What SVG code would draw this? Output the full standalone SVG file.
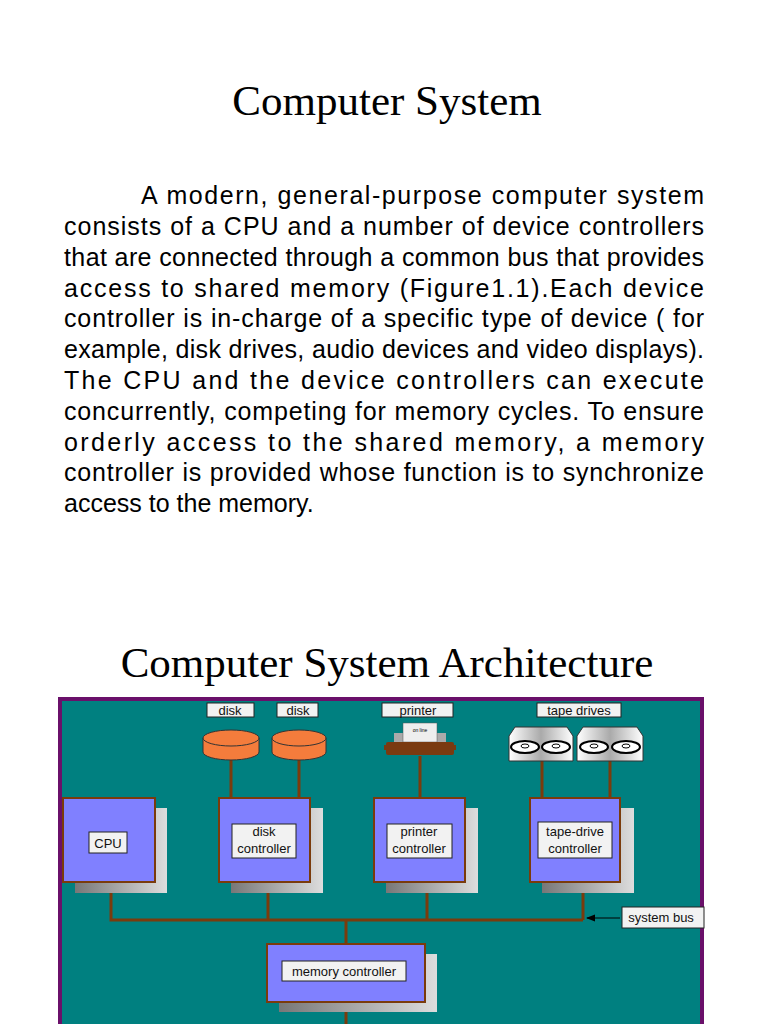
<svg xmlns="http://www.w3.org/2000/svg" width="768" height="1024" viewBox="0 0 768 1024">
<style>
.t{font-family:"Liberation Serif",serif;font-size:43px;fill:#000;text-anchor:middle}
.p{font-family:"Liberation Sans",Arial,sans-serif;font-size:25px;fill:#000}
.box{fill:#8080ff;stroke:#7a3b0c;stroke-width:2}
.sh{fill:url(#g)}
.lb{fill:#f2f2f2;stroke:#222;stroke-width:1}
.lt{font-family:"Liberation Sans",Arial,sans-serif;font-size:13px;fill:#111;text-anchor:middle}
.ln{stroke:#7a3b0c;stroke-width:3;fill:none}
</style>
<defs>
<linearGradient id="g" x1="0" y1="0" x2="1" y2="0"><stop offset="0" stop-color="#777"/><stop offset="1" stop-color="#ddd"/></linearGradient>
<linearGradient id="tg" x1="0" y1="0" x2="1" y2="0"><stop offset="0" stop-color="#fff"/><stop offset="0.5" stop-color="#aaa"/><stop offset="1" stop-color="#fff"/></linearGradient>
<marker id="ah" markerWidth="8" markerHeight="6" refX="7" refY="3" orient="auto"><path d="M0,0 L8,3 L0,6 Z" fill="#000"/></marker>
</defs>
<rect width="768" height="1024" fill="#fff"/>
<text class="t" x="387" y="115">Computer System</text>
<g class="p">
<text x="141" y="204" textLength="563" lengthAdjust="spacing">A modern, general-purpose computer system</text>
<text x="64" y="235" textLength="640" lengthAdjust="spacing">consists of a CPU and a number of device controllers</text>
<text x="64" y="266" textLength="640" lengthAdjust="spacing">that are connected through a common bus that provides</text>
<text x="64" y="297" textLength="640" lengthAdjust="spacing">access to shared memory (Figure1.1).Each device</text>
<text x="64" y="327" textLength="640" lengthAdjust="spacing">controller is in-charge of a specific type of device ( for</text>
<text x="64" y="358" textLength="640" lengthAdjust="spacing">example, disk drives, audio devices and video displays).</text>
<text x="64" y="389" textLength="640" lengthAdjust="spacing">The CPU and the device controllers can execute</text>
<text x="64" y="420" textLength="640" lengthAdjust="spacing">concurrently, competing for memory cycles. To ensure</text>
<text x="64" y="451" textLength="640" lengthAdjust="spacing">orderly access to the shared memory, a memory</text>
<text x="64" y="481" textLength="640" lengthAdjust="spacing">controller is provided whose function is to synchronize</text>
<text x="64" y="512">access to the memory.</text>
</g>
<text class="t" x="387" y="677">Computer System Architecture</text>
<rect x="60" y="699" width="642" height="330" fill="#008080" stroke="#6a106a" stroke-width="4"/>
<g id="connectors">
<path class="ln" d="M111,882 V920 H583 M268,882 V920 M427,882 V920 M583,882 V920 M346,920 V944 M346,1002 V1024"/>
<path class="ln" d="M231,758 V798 M299,758 V798 M420,756 V798 M542,760 V798 M610,760 V798"/>
<line x1="620" y1="918" x2="587" y2="918" stroke="#000" stroke-width="1.2" marker-end="url(#ah)"/>
</g>
<g id="cpu"><rect class="sh" x="75" y="808" width="92" height="85"/><rect class="box" x="63" y="798" width="92" height="84"/><rect class="lb" x="89" y="832" width="38" height="21"/><text class="lt" x="108" y="848">CPU</text></g>
<g id="disk-controller"><rect class="sh" x="231" y="808" width="92" height="85"/><rect class="box" x="219" y="798" width="91" height="84"/><rect class="lb" x="232" y="824" width="64" height="34"/><text class="lt" x="264" y="836">disk</text><text class="lt" x="264" y="853">controller</text></g>
<g id="printer-controller"><rect class="sh" x="386" y="808" width="92" height="85"/><rect class="box" x="374" y="798" width="91" height="84"/><rect class="lb" x="387" y="824" width="65" height="34"/><text class="lt" x="419" y="836">printer</text><text class="lt" x="419" y="853">controller</text></g>
<g id="tape-controller"><rect class="sh" x="542" y="808" width="92" height="85"/><rect class="box" x="530" y="798" width="90" height="84"/><rect class="lb" x="538" y="822" width="74" height="36"/><text class="lt" x="575" y="836">tape-drive</text><text class="lt" x="575" y="853">controller</text></g>
<g id="memory-controller"><rect class="sh" x="279" y="954" width="158" height="58"/><rect class="box" x="267" y="944" width="158" height="58"/><rect class="lb" x="282" y="961" width="124" height="20"/><text class="lt" x="344" y="976">memory controller</text></g>
<g id="disk1"><rect class="lb" x="207" y="703" width="47" height="14"/><text class="lt" x="230" y="715">disk</text>
<path d="M203,738 V752 A28,8 0 0 0 259,752 V738 Z" fill="#f47c3c" stroke="#333"/><ellipse cx="231" cy="738" rx="28" ry="8" fill="#f47c3c" stroke="#333"/></g>
<g id="disk2"><rect class="lb" x="277" y="703" width="41" height="14"/><text class="lt" x="298" y="715">disk</text>
<path d="M272,738 V752 A27,8 0 0 0 326,752 V738 Z" fill="#f47c3c" stroke="#333"/><ellipse cx="299" cy="738" rx="27" ry="8" fill="#f47c3c" stroke="#333"/></g>
<g id="printer"><rect class="lb" x="382" y="703" width="71" height="14"/><text class="lt" x="418" y="715">printer</text>
<rect x="394" y="733" width="52" height="10" fill="#aaa"/><rect x="403" y="723" width="34" height="19" fill="#eee" stroke="#555" stroke-width="0.5"/><text x="420" y="732" font-family="Liberation Sans,sans-serif" font-size="5" text-anchor="middle">on line</text>
<rect x="386" y="742" width="68" height="13" rx="2" fill="#7a3a10"/><rect x="384" y="745" width="72" height="5" fill="#7a3a10"/></g>
<g id="tape-drives"><rect class="lb" x="537" y="703" width="84" height="14"/><text class="lt" x="579" y="715">tape drives</text>
<g><path d="M509,736 L515,727 H567 L573,736 V761 H509 Z" fill="url(#tg)" stroke="#333"/><ellipse cx="525" cy="747" rx="14" ry="6" fill="#fff" stroke="#000" stroke-width="2"/><ellipse cx="525" cy="746" rx="4" ry="2" fill="none" stroke="#000"/><ellipse cx="556" cy="747" rx="14" ry="6" fill="#fff" stroke="#000" stroke-width="2"/><ellipse cx="556" cy="746" rx="4" ry="2" fill="none" stroke="#000"/></g>
<g><path d="M577,736 L583,727 H637 L643,736 V761 H577 Z" fill="url(#tg)" stroke="#333"/><ellipse cx="594" cy="747" rx="14" ry="6" fill="#fff" stroke="#000" stroke-width="2"/><ellipse cx="594" cy="746" rx="4" ry="2" fill="none" stroke="#000"/><ellipse cx="626" cy="747" rx="14" ry="6" fill="#fff" stroke="#000" stroke-width="2"/><ellipse cx="626" cy="746" rx="4" ry="2" fill="none" stroke="#000"/></g></g>
<g id="system-bus-label"><rect class="lb" x="622" y="907" width="82" height="21"/><text class="lt" x="661" y="922">system bus</text></g>
</svg>
